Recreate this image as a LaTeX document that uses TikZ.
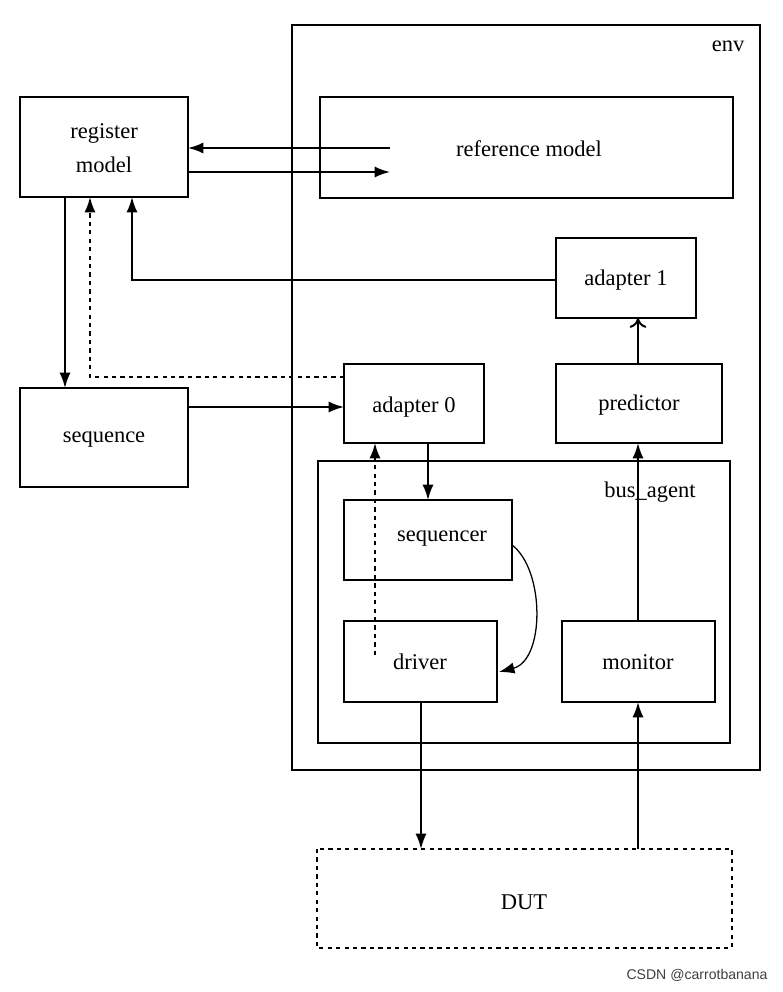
\documentclass[tikz,border=0pt]{standalone}
\usepackage{fontspec}
\setmainfont{Liberation Serif}
\newfontfamily\wmfont{Liberation Sans}
\usetikzlibrary{arrows.meta}
\begin{document}
\begin{tikzpicture}[x=0.025cm,y=-0.025cm,
  box/.style={draw,line width=1.4pt,inner sep=0pt},
  lbl/.style={font=\fontsize{16}{19}\selectfont,align=center},
  arr/.style={line width=1.4pt,-{Latex[length=11pt,width=8pt]}},
  darr/.style={arr,dashed}]
\useasboundingbox (0,0) rectangle (782,992);
% boxes
\draw[box] (292,25) rectangle (760,770);
\node[lbl] (envl) at (728,46) {env};
\draw[box] (20,97) rectangle (188,197);
\node[lbl] (reg) at (104,148) {register\\[5pt]model};
\draw[box] (320,97) rectangle (733,198);
\node[lbl] (ref) at (529,149) {reference model};
\draw[box] (556,238) rectangle (696,318);
\node[lbl] (ad1) at (626,280) {adapter 1};
\draw[box] (20,388) rectangle (188,487);
\node[lbl] (seq) at (104,439) {sequence};
\draw[box] (344,364) rectangle (484,443);
\node[lbl] (ad0) at (414,407) {adapter 0};
\draw[box] (556,364) rectangle (722,443);
\node[lbl] (pred) at (639,405) {predictor};
\draw[box] (318,461) rectangle (730,743);
\node[lbl] (bus) at (650,492) {bus\_agent};
\draw[box] (344,500) rectangle (512,580);
\node[lbl] (sqr) at (442,538) {sequencer};
\draw[box] (344,621) rectangle (497,702);
\node[lbl] (drv) at (420,662) {driver};
\draw[box] (562,621) rectangle (715,702);
\node[lbl] (mon) at (638,662) {monitor};
\draw[box,dashed] (317,849) rectangle (732,948);
\node[lbl] (dut) at (524,902) {DUT};
\node[font=\wmfont\fontsize{10}{12}\selectfont,text=black!75] (wm) at (697,975) {CSDN @carrotbanana};
% connectors
\coordinate (a) at (390,148); \coordinate (b) at (188,148);
\draw[arr] (a) -- (b);
\coordinate (c) at (188,172); \coordinate (d) at (390,172);
\draw[arr] (c) -- (d);
\coordinate (e) at (556,280); \coordinate (f) at (132,197);
\draw[arr] (e) -| (f);
\coordinate (g) at (344,377); \coordinate (h) at (90,197);
\draw[darr] (g) -| (h);
\coordinate (i) at (65,197); \coordinate (j) at (65,388);
\draw[arr] (i) -- (j);
\coordinate (k) at (188,407); \coordinate (l) at (344,407);
\draw[arr] (k) -- (l);
\coordinate (m) at (428,443); \coordinate (n) at (428,500);
\draw[arr] (m) -- (n);
\coordinate (o) at (375,655); \coordinate (p) at (375,443);
\draw[darr] (o) -- (p);
\coordinate (q) at (512,545); \coordinate (r) at (499,672);
\draw[arr,line width=0.9pt] (q) .. controls (545,570) and (545,660) .. (r);
\coordinate (s) at (638,364); \coordinate (t) at (638,318);
\draw[line width=1.4pt,-{To[length=7pt,width=12pt]}] (s) -- (t);
\coordinate (u) at (638,621); \coordinate (v) at (638,443);
\draw[arr] (u) -- (v);
\coordinate (w) at (421,702); \coordinate (x) at (421,849);
\draw[arr] (w) -- (x);
\coordinate (y) at (638,849); \coordinate (z) at (638,702);
\draw[arr] (y) -- (z);
\end{tikzpicture}
\end{document}
